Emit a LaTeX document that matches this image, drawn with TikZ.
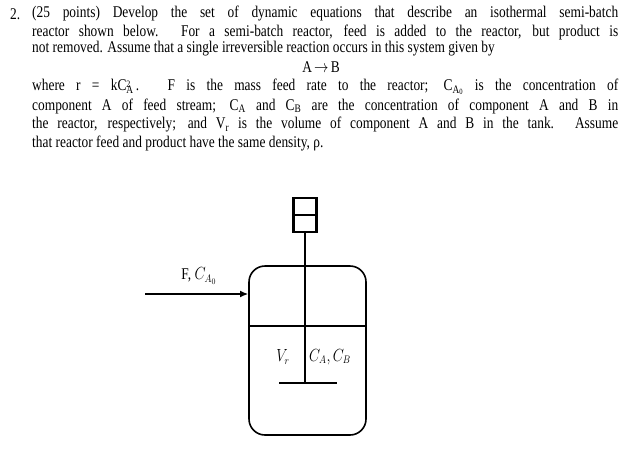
\documentclass[tikz,border=0pt]{standalone}
\usepackage{fontspec}
\setmainfont{Liberation Serif}
\usetikzlibrary{arrows.meta}
\newcommand{\jl}[1]{\makebox[586pt][s]{#1}}
\newcommand{\ca}{C\textsubscript{A}}
\newcommand{\tl}[1]{\scalebox{1}[1.22]{#1}}
\begin{document}
\begin{tikzpicture}[x=1pt,y=-1pt,
  txt/.style={anchor=west,inner sep=0pt,font=\fontsize{13.4}{15}\selectfont},
  lbl/.style={inner sep=0pt,font=\fontsize{13.4}{15}\selectfont},
  line/.style={line width=1.6pt}]
\useasboundingbox (0,0) rectangle (636,453);
\node[txt] (n) at (10,14) {\tl{2.}};
\node[txt] (l1) at (32,14) {\tl{\jl{(25 points) Develop the set of dynamic equations that describe an isothermal semi-batch}}};
\node[txt] (l2) at (32,32) {\tl{\jl{reactor shown below. For a semi-batch reactor, feed is added to the reactor, but product is}}};
\node[txt] (l3) at (32,49) {\tl{not removed. Assume that a single irreversible reaction occurs in this system given by}};
\node[lbl] (rx) at (321,67) {\tl{A\,$\rightarrow$\,B}};
\node[txt] (l4) at (32,87) {\tl{\jl{where r = kC\raisebox{0.45ex}{\makebox[0pt][l]{\footnotesize 2}}\textsubscript{A}\,. F is the mass feed rate to the reactor; C\textsubscript{A\textsubscript{0}} is the concentration of}}};
\node[txt] (l5) at (32,106) {\tl{\jl{component A of feed stream; \ca{} and C\textsubscript{B} are the concentration of component A and B in}}};
\node[txt] (l6) at (32,125) {\tl{\jl{the reactor, respectively; and V\textsubscript{r} is the volume of component A and B in the tank. Assume}}};
\node[txt] (l7) at (32,144) {\tl{that reactor feed and product have the same density, ρ.}};
% diagram
\draw[line,rounded corners=16pt] (249,266) rectangle (366,435);
\node[draw,line width=2.2pt,minimum width=23pt,minimum height=34pt,inner sep=0pt] (m) at (305,215) {};
\draw[line width=1.5pt] (m.west) -- (m.east);
\coordinate (sb) at (305,383);
\draw[line] (m.south) -- (sb);
\draw[line] (279,383) -- (337,383);
\draw[line width=1.1pt] (249,326) -- (366,326);
\coordinate (fs) at (145,294);
\coordinate (fe) at (248,294);
\draw[line width=1.1pt,-{Latex[length=8pt,width=7pt]}] (fs) -- (fe);
\node[lbl] (fl) at (199,276) {\tl{F, $C_{A_0}$}};
\node[lbl] (vr) at (283,357) {\tl{$V_r$}};
\node[lbl] (cc) at (330,357) {\tl{$C_A, C_B$}};
\end{tikzpicture}
\end{document}
